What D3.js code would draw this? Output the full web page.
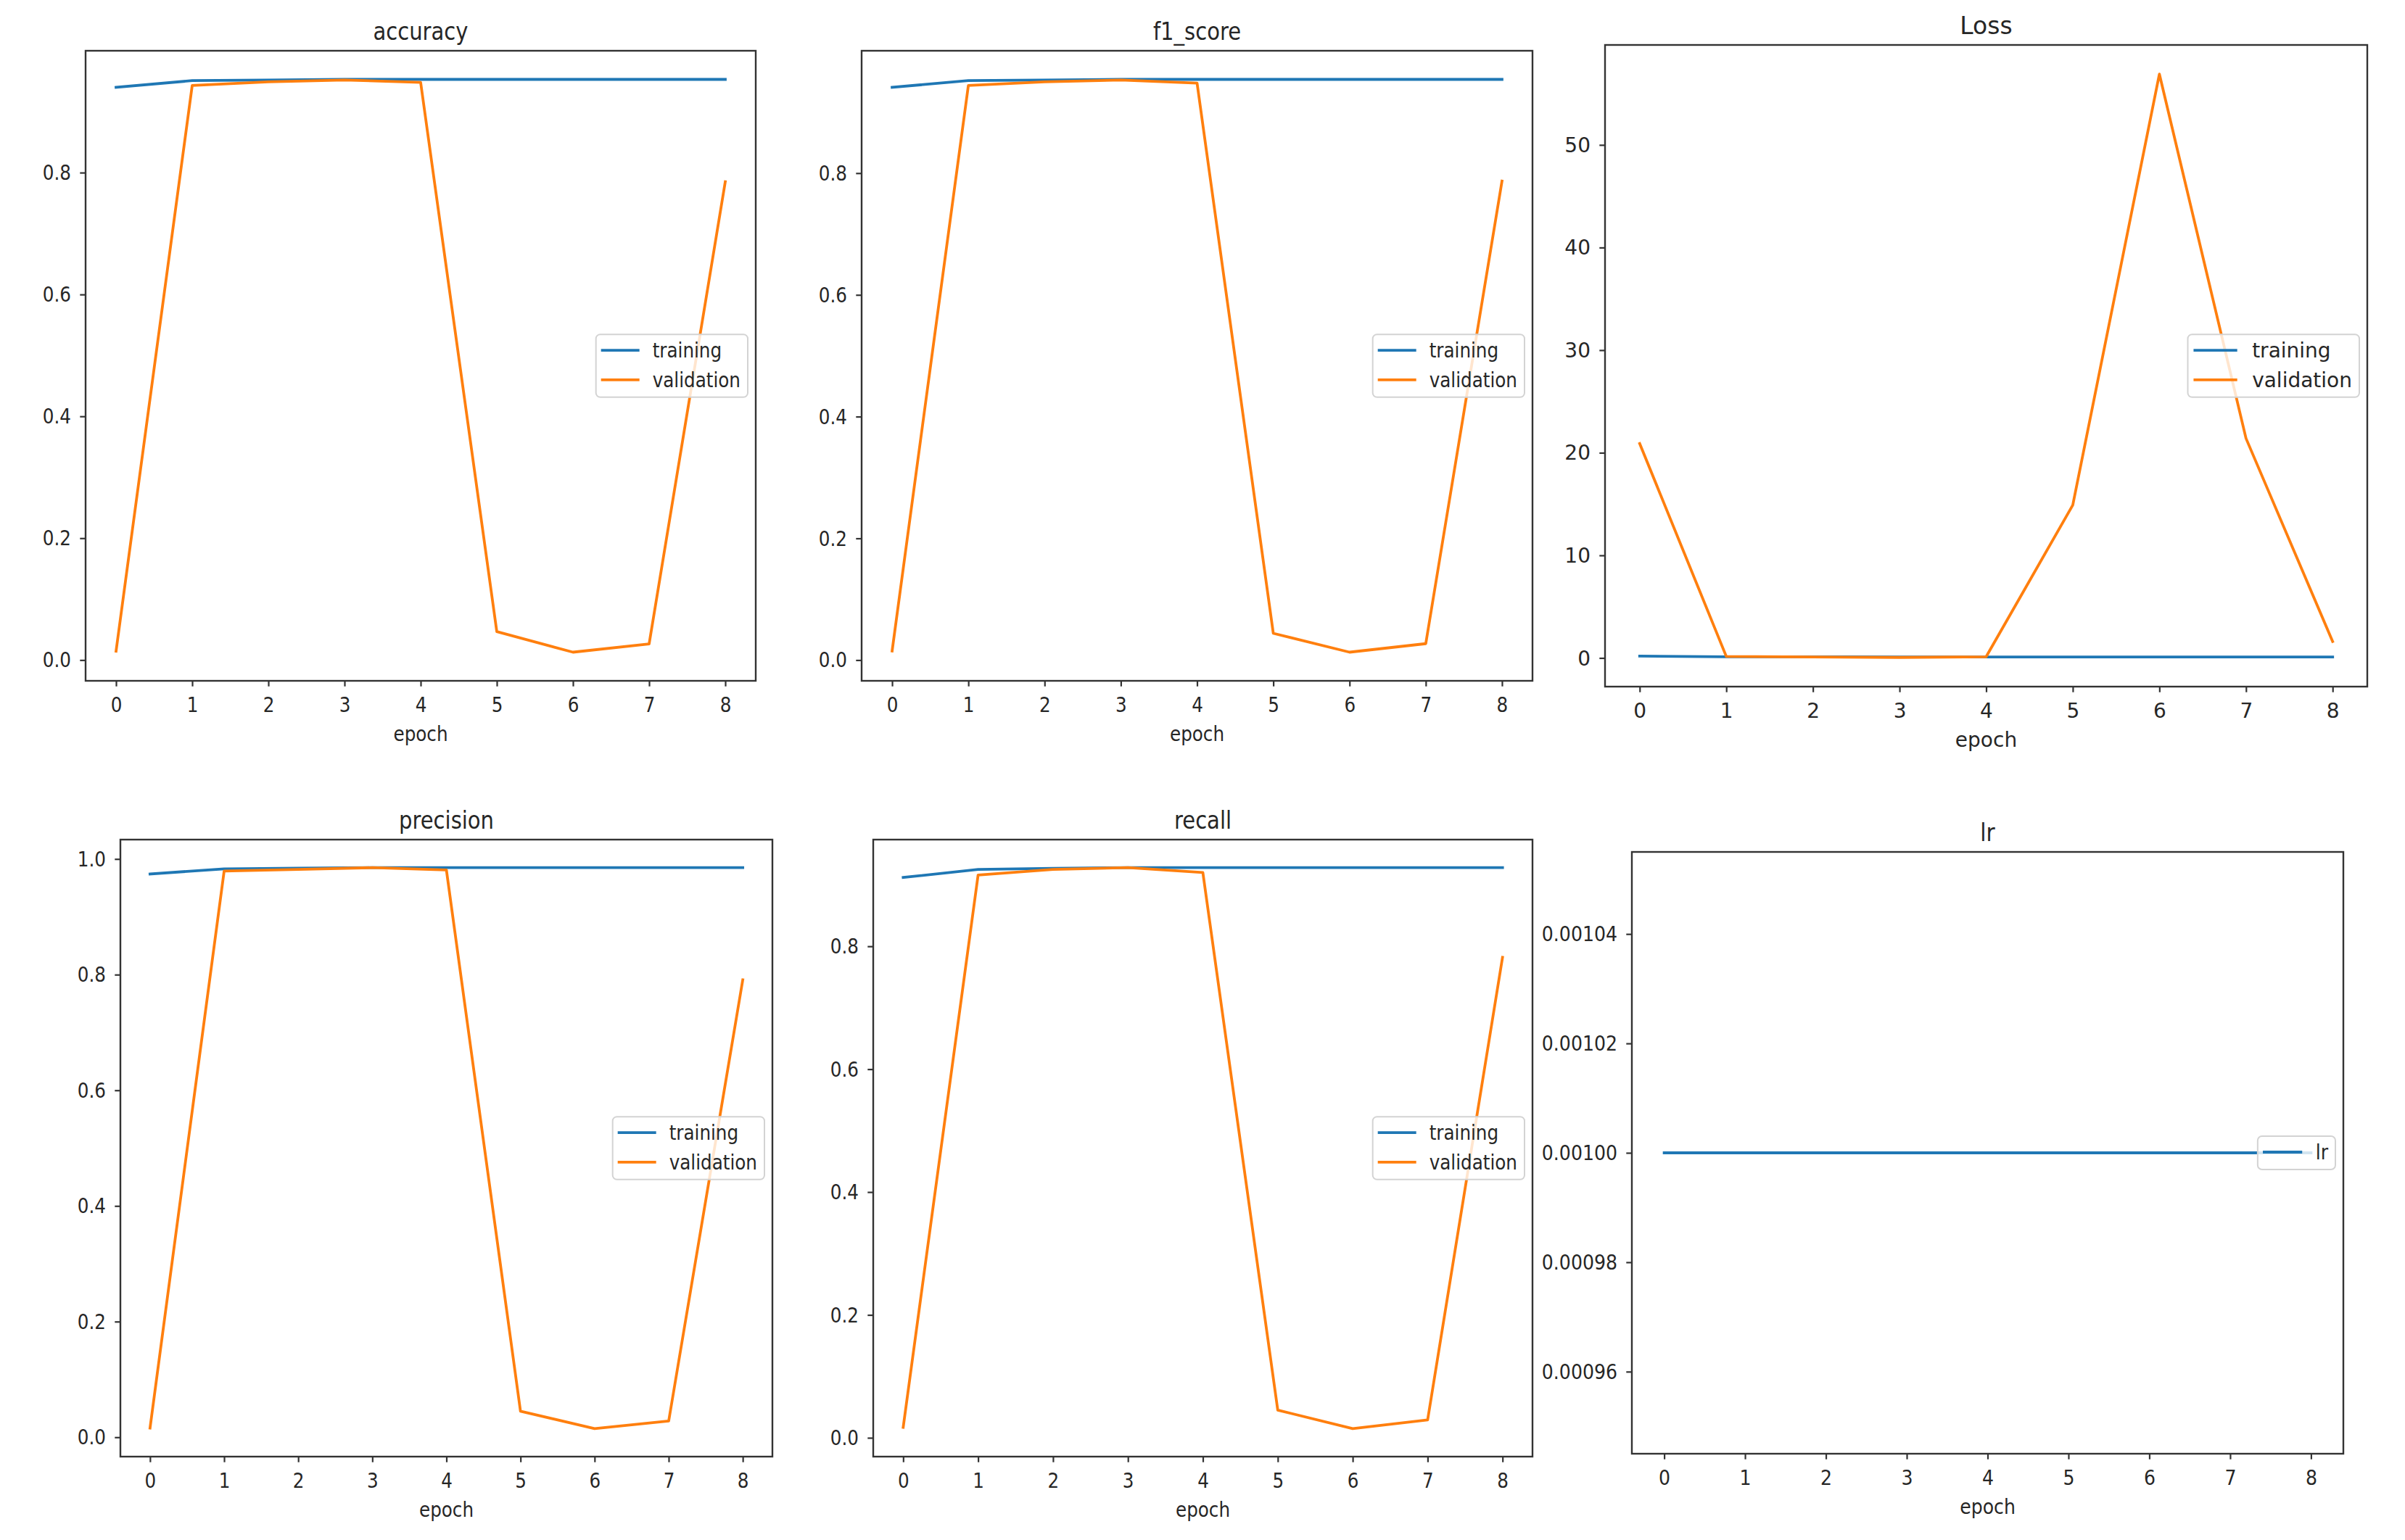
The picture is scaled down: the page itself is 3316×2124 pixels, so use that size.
<!DOCTYPE html>
<html><head><meta charset="utf-8">
<script src="https://cdn.jsdelivr.net/npm/d3@7"></script>
<style>
body{margin:0;background:#fff}
svg{display:block}
text{font-family:"DejaVu Sans",sans-serif;fill:#262626}
</style>
</head><body>
<svg id="c" width="3316" height="2124"></svg>
<script>
// ---------- data ----------
const epochs = [0,1,2,3,4,5,6,7,8];
const titles = ["accuracy","f1_score","Loss","precision","recall","lr"];
const seriesNames = ["training","validation"];

const accTrain  = [0.940,0.951,0.952,0.953,0.953,0.953,0.953,0.953,0.953];
const accVal    = [0.0145,0.943,0.949,0.952,0.948,0.0466,0.0129,0.0265,0.785];
const f1Train   = [0.941,0.952,0.953,0.954,0.954,0.954,0.954,0.954,0.954];
const f1Val     = [0.015,0.944,0.950,0.953,0.948,0.044,0.013,0.027,0.787];
const lossTrain = [0.18,0.12,0.11,0.10,0.10,0.10,0.10,0.10,0.10];
const lossVal   = [20.9,0.15,0.10,0.05,0.12,14.9,56.9,21.4,1.6];
const precTrain = [0.974,0.983,0.984,0.985,0.985,0.985,0.985,0.985,0.985];
const precVal   = [0.016,0.979,0.982,0.985,0.981,0.045,0.015,0.028,0.791];
const recTrain  = [0.912,0.925,0.927,0.928,0.928,0.928,0.928,0.928,0.928];
const recVal    = [0.017,0.916,0.925,0.928,0.920,0.045,0.015,0.029,0.782];
const lrVals    = [0.001,0.001,0.001,0.001,0.001,0.001,0.001,0.001,0.001];

const yTicksAcc  = [0.0,0.2,0.4,0.6,0.8];
const yTicksPrec = [0.0,0.2,0.4,0.6,0.8,1.0];
const yTicksLoss = [0,10,20,30,40,50];
const yTicksLr   = [0.00096,0.00098,0.00100,0.00102,0.00104];

// ---------- layout (positions / styles) ----------
const C_TRAIN = "#1f77b4", C_VAL = "#ff7f0e";
const panels = [
  {title:titles[0], series:[accTrain,accVal],  names:seriesNames, yt:yTicksAcc,  fmt:".1f", L:118, R:1042, T:70,   B:939,  sx:0.88},
  {title:titles[1], series:[f1Train,f1Val],    names:seriesNames, yt:yTicksAcc,  fmt:".1f", L:1188,R:2113, T:70,   B:939,  sx:0.88},
  {title:titles[2], series:[lossTrain,lossVal],names:seriesNames, yt:yTicksLoss, fmt:"d",   L:2213,R:3264, T:62,   B:947,  sx:1.0},
  {title:titles[3], series:[precTrain,precVal],names:seriesNames, yt:yTicksPrec, fmt:".1f", L:166, R:1065, T:1158, B:2009, sx:0.88},
  {title:titles[4], series:[recTrain,recVal],  names:seriesNames, yt:yTicksAcc,  fmt:".1f", L:1204,R:2113, T:1158, B:2009, sx:0.88},
  {title:titles[5], series:[lrVals],           names:["lr"],      yt:yTicksLr,   fmt:".5f", L:2250,R:3231, T:1175, B:2005, sx:0.9}
];
const colors = [C_TRAIN, C_VAL];

const svg = d3.select("#c");

function squash(sel, sx){
  sel.each(function(){
    const t = d3.select(this);
    const x = +t.attr("x")||0, y = +t.attr("y")||0;
    t.attr("x",0).attr("y",0).attr("transform",`translate(${x},${y}) scale(${sx},1)`);
  });
}

panels.forEach(p=>{
  const g = svg.append("g");
  // domains like matplotlib autoscale (5% margins)
  let all = p.series.flat();
  let lo = d3.min(all), hi = d3.max(all);
  if (lo === hi){ const v=Math.abs(lo)*0.05; lo-=v; hi+=v; }
  const m = (hi-lo)*0.05;
  const x = d3.scaleLinear().domain([-0.4,8.4]).range([p.L,p.R]);
  const y = d3.scaleLinear().domain([lo-m,hi+m]).range([p.B,p.T]);

  // lines
  const line = d3.line().x((d,i)=>x(epochs[i])).y(d=>y(d));
  p.series.forEach((s,k)=>{
    g.append("path").datum(s).attr("d",line)
      .attr("fill","none").attr("stroke",colors[k]).attr("stroke-width",3.8)
      .attr("stroke-linejoin","round").attr("stroke-linecap","square");
  });

  // axes
  const xa = g.append("g").attr("transform",`translate(0,${p.B})`)
    .call(d3.axisBottom(x).tickValues(epochs).tickFormat(d3.format("d")).tickSize(7.7));
  const ya = g.append("g").attr("transform",`translate(${p.L},0)`)
    .call(d3.axisLeft(y).tickValues(p.yt).tickFormat(d3.format(p.fmt)).tickSize(7.7));
  [xa,ya].forEach(a=>{
    a.select(".domain").remove();
    a.selectAll(".tick line").attr("stroke","#333").attr("stroke-width",2.2);
    a.selectAll(".tick text").attr("font-size",28).attr("fill","#262626")
      .style("font-family",'"DejaVu Sans",sans-serif');
  });
  xa.selectAll(".tick text").attr("y",43).attr("dy",0);
  ya.selectAll(".tick text").attr("x",-20).attr("dy","0.34em");
  squash(xa.selectAll(".tick text"), p.sx);
  squash(ya.selectAll(".tick text"), p.sx);

  // frame
  g.append("rect").attr("x",p.L).attr("y",p.T).attr("width",p.R-p.L).attr("height",p.B-p.T)
    .attr("fill","none").attr("stroke","#333").attr("stroke-width",2.4);

  // title and x label
  const cx = (p.L+p.R)/2;
  g.append("text").attr("x",cx).attr("y",p.T-15).attr("text-anchor","middle")
    .attr("font-size",33).text(p.title).call(s=>squash(s,p.sx));
  g.append("text").attr("x",cx).attr("y",p.B+83).attr("text-anchor","middle")
    .attr("font-size",28).text("epoch").call(s=>squash(s,p.sx));

  // legend (center right)
  const f = p.sx/0.88;
  const lg = g.append("g");
  const texts = p.names.map(n=>n);
  const tmp = lg.append("text").attr("font-size",28);
  let tw = 0;
  texts.forEach(t=>{ tmp.text(t); tw = Math.max(tw, tmp.node().getComputedTextLength()*p.sx); });
  tmp.remove();
  const lineStart = 7*f, lineEnd = 60*f, textStart = 78*f;
  const W = textStart + tw + 10;
  const rowH = 40.7, H = 22*2 + rowH*(texts.length-1) + 2;
  const x0 = p.R - 11 - W;
  const y0 = (p.T+p.B)/2 - H/2;
  lg.append("rect").attr("x",x0).attr("y",y0).attr("width",W).attr("height",H)
    .attr("rx",6).attr("fill","rgba(255,255,255,0.8)").attr("stroke","#d3d3d3").attr("stroke-width",2);
  texts.forEach((t,k)=>{
    const ry = y0 + 22 + k*rowH;
    lg.append("line").attr("x1",x0+lineStart).attr("x2",x0+lineEnd).attr("y1",ry).attr("y2",ry)
      .attr("stroke",colors[k]).attr("stroke-width",3.8);
    lg.append("text").attr("x",x0+textStart).attr("y",ry).attr("dy","0.36em")
      .attr("font-size",28).text(t).call(s=>squash(s,p.sx));
  });
});
</script>
</body></html>
